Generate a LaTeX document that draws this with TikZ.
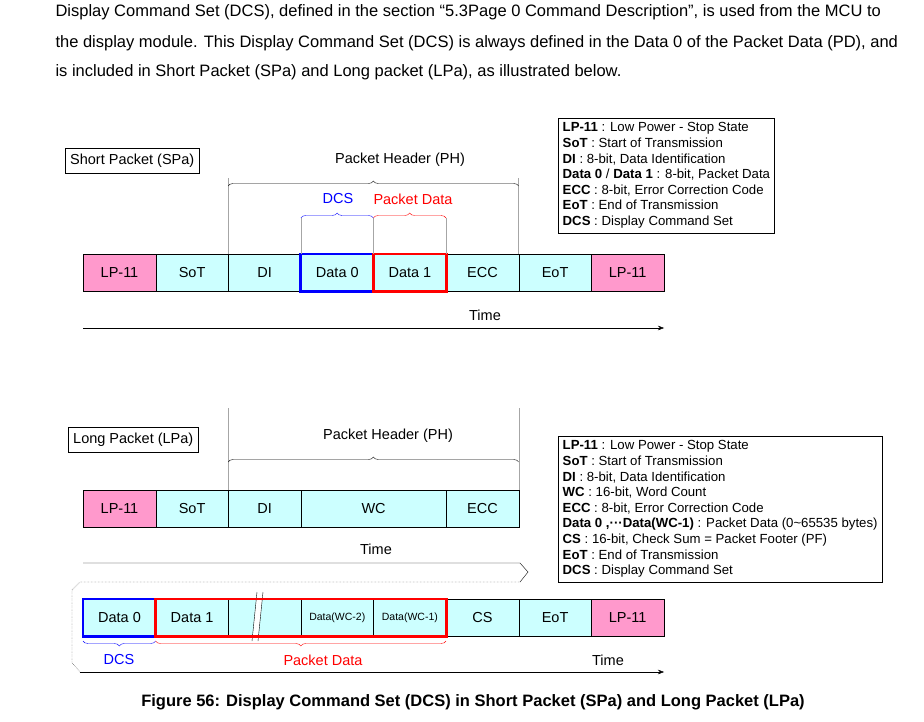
\documentclass[tikz,border=0pt]{standalone}
\usepackage{fontspec}
\setmainfont{Liberation Sans}
\usetikzlibrary{decorations.pathreplacing,arrows.meta}
\definecolor{cy}{HTML}{CCFFFF}
\definecolor{pk}{HTML}{FF99CC}
\begin{document}
\begin{tikzpicture}[x=1pt,y=-1pt,
 f/.style={font=\fontsize{14.5}{14.5}\selectfont},
 cell/.style={draw,fill=cy,minimum width=72.6pt,minimum height=37pt,inner sep=0pt,f,anchor=north west},
 lp/.style={cell,fill=pk},
 lbl/.style={draw,minimum height=25pt,inner xsep=5pt,f,anchor=north west},
 brc/.style={decorate,decoration={brace,amplitude=5pt}},
 gl/.style={gray!70,line width=0.5pt},
 leg/.style={draw,anchor=north west,align=left,font=\fontsize{13.2}{15.6}\selectfont,inner sep=4.5pt},
 para/.style={anchor=west,font=\fontsize{16.5}{16.5}\selectfont}]
\useasboundingbox (0,0) rectangle (924,722);
\node[para] (p1) at (52,12) {Display Command Set (DCS), defined in the section “5.3Page 0 Command Description”, is used from the MCU to};
\node[para] (p2) at (52,43) {the display module. This Display Command Set (DCS) is always defined in the Data 0 of the Packet Data (PD), and};
\node[para] (p3) at (52,72) {is included in Short Packet (SPa) and Long packet (LPa), as illustrated below.};
% legend top
\node[leg] (legA) at (558,118) {\textbf{LP-11} : Low Power - Stop State\\\textbf{SoT} : Start of Transmission\\\textbf{DI} : 8-bit, Data Identification\\\textbf{Data 0} / \textbf{Data 1} : 8-bit, Packet Data\\\textbf{ECC} : 8-bit, Error Correction Code\\\textbf{EoT} : End of Transmission\\\textbf{DCS} : Display Command Set};
\node[leg] (legB) at (558,436) {\textbf{LP-11} : Low Power - Stop State\\\textbf{SoT} : Start of Transmission\\\textbf{DI} : 8-bit, Data Identification\\\textbf{WC} : 16-bit, Word Count\\\textbf{ECC} : 8-bit, Error Correction Code\\\textbf{Data 0 ,···Data(WC-1)} : Packet Data (0\textasciitilde65535 bytes)\\\textbf{CS} : 16-bit, Check Sum = Packet Footer (PF)\\\textbf{EoT} : End of Transmission\\\textbf{DCS} : Display Command Set};
% short packet
\node[lbl] (sp) at (65,148) {Short Packet (SPa)};
\node[lp] (a1) at (83,254) {LP-11};
\node[cell] (a2) at (155.6,254) {SoT};
\node[cell] (a3) at (228.2,254) {DI};
\node[cell] (a4) at (300.8,254) {Data 0};
\node[cell] (a5) at (373.4,254) {Data 1};
\node[cell] (a6) at (446,254) {ECC};
\node[cell] (a7) at (518.6,254) {EoT};
\node[lp] (a8) at (591.2,254) {LP-11};
\draw[blue,line width=2.8pt] (a4.north west) rectangle (a4.south east);
\draw[red,line width=2.8pt] (a5.north west) rectangle (a5.south east);
\draw[gl] (a3.north west) -- ++(0,-76) (a7.north west) -- ++(0,-76);
\draw[gl] (a4.north west) -- ++(0,-36) (a5.north west) -- ++(0,-36) (a6.north west) -- ++(0,-36);
\draw[brc] (228.2,186) -- (518.6,186);
\node[f] (ph1) at (400,160) {Packet Header (PH)};
\draw[brc,blue] (300.8,218) -- (373.4,218);
\draw[brc,red] (373.4,218) -- (446,218);
\node[f,blue] (dcs1) at (338,199) {DCS};
\node[f,red] (pd1) at (413,199) {Packet Data};
\coordinate (t1s) at (83,328); \coordinate (t1e) at (664,328);
\draw[-{Stealth[length=6pt]}] (t1s) -- (t1e);
\node[f] (time1) at (485,315) {Time};
% long packet
\node[lbl] (lpk) at (68,427) {Long Packet (LPa)};
\node[lp] (b1) at (83,490) {LP-11};
\node[cell] (b2) at (155.6,490) {SoT};
\node[cell] (b3) at (228.2,490) {DI};
\node[cell,minimum width=145.2pt] (b4) at (300.8,490) {WC};
\node[cell] (b5) at (446,490) {ECC};
\draw[gl] (b3.north west) -- ++(0,-82) (b5.north east) -- ++(0,-82);
\draw[brc] (228.2,462) -- (518.6,462);
\node[f] (ph2) at (388,436) {Packet Header (PH)};
\node[f] (time2) at (376,549) {Time};
\node[cell] (c1) at (83,599) {Data 0};
\node[cell] (c2) at (155.6,599) {Data 1};
\node[cell] (c3) at (228.2,599) {};
\node[cell,font=\fontsize{10.5}{10.5}\selectfont] (c4) at (300.8,599) {Data(WC-2)};
\node[cell,font=\fontsize{10.5}{10.5}\selectfont] (c5) at (373.4,599) {Data(WC-1)};
\node[cell] (c6) at (446,599) {CS};
\node[cell] (c7) at (518.6,599) {EoT};
\node[lp] (c8) at (591.2,599) {LP-11};
\draw[fill=white,draw=none] (257,592) -- (263,592) -- (258,641) -- (252,641) -- cycle;
\draw (257,592) -- (252,641) (263,592) -- (258,641);
\draw[blue,line width=2.8pt] (c1.north west) rectangle (c1.south east);
\draw[red,line width=2.8pt] (c2.north west) rectangle (c5.south east);
\draw[brc,blue] (155.6,641) -- (83,641);
\draw[brc,red] (446,641) -- (155.6,641);
\node[f,blue] (dcs2) at (119,660) {DCS};
\node[f,red] (pd2) at (323,660) {Packet Data};
\node[f] (time3) at (608,660) {Time};
% folded time arrow
\draw (83,563) -- (520,563) -- (528,572) -- (520,582);
\draw[densely dotted] (520,582) -- (80,582) -- (72,590) -- (72,663) -- (80,672);
\coordinate (t3e) at (664,672);
\draw[-{Stealth[length=6pt]}] (80,672) -- (t3e);
\node[font=\bfseries\fontsize{16.5}{16.5}\selectfont] (cap) at (473,702) {Figure 56: Display Command Set (DCS) in Short Packet (SPa) and Long Packet (LPa)};
\end{tikzpicture}
\end{document}
